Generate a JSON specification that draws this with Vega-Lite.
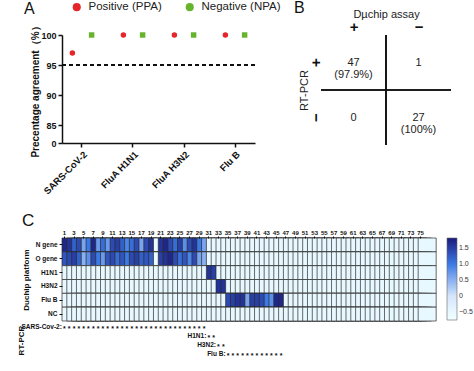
{
"$schema": "https://vega.github.io/schema/vega-lite/v6.json",
"padding": {"left": 17, "top": 0, "right": 2, "bottom": 0},
"background": "white",
"config": {"font": "Liberation Sans", "view": {"stroke": null}},
"spacing": 16,
"vconcat": [
{"hconcat": [
{
"width": 193, "height": 108,
"title": {"text": "A", "anchor": "start", "frame": "group", "fontSize": 16, "fontWeight": "normal", "dx": -38, "offset": 4, "color": "#111"},
"data": {"values": [
{"target": "SARS-CoV-2", "type": "Positive (PPA)", "pct": 97},
{"target": "SARS-CoV-2", "type": "Negative (NPA)", "pct": 100},
{"target": "FluA H1N1", "type": "Positive (PPA)", "pct": 100},
{"target": "FluA H1N1", "type": "Negative (NPA)", "pct": 100},
{"target": "FluA H3N2", "type": "Positive (PPA)", "pct": 100},
{"target": "FluA H3N2", "type": "Negative (NPA)", "pct": 100},
{"target": "Flu B", "type": "Positive (PPA)", "pct": 100},
{"target": "Flu B", "type": "Negative (NPA)", "pct": 100}
]},
"layer": [
{"mark": {"type": "rule", "strokeDash": [4, 3], "strokeWidth": 1.2, "color": "#111"}, "encoding": {"y": {"datum": 95, "type": "quantitative"}}},
{"mark": {"type": "point", "filled": true, "size": 30, "opacity": 1},
"encoding": {
"x": {"field": "target", "type": "nominal", "sort": ["SARS-CoV-2", "FluA H1N1", "FluA H3N2", "Flu B"], "scale": {"paddingInner": 0.216, "paddingOuter": 0},
"axis": {"title": null, "labelAngle": -45, "labelFontWeight": "bold", "labelFontSize": 9.5, "labelColor": "#111", "domainColor": "#111", "domainWidth": 1.5, "tickColor": "#111", "tickWidth": 1.5, "tickSize": 4, "labelPadding": 2}},
"xOffset": {"field": "type", "type": "nominal", "sort": ["Positive (PPA)", "Negative (NPA)"], "scale": {"paddingInner": 0, "paddingOuter": 0.54}},
"y": {"field": "pct", "type": "quantitative", "scale": {"domain": [82, 100], "nice": false, "zero": false},
"axis": {"values": [82, 85, 90, 95, 100], "tickCount": 5, "labelOverlap": false, "labelExpr": "datum.value < 83 ? '0' : datum.label", "grid": false, "title": "Precentage agreement（%）", "titleFontSize": 10, "titleFontWeight": "bold", "titleColor": "#111", "titlePadding": 0, "labelFontWeight": "bold", "labelFontSize": 9, "labelColor": "#111", "domainColor": "#111", "domainWidth": 1.5, "tickColor": "#111", "tickWidth": 1.5, "tickSize": 4}},
"color": {"field": "type", "type": "nominal", "sort": ["Positive (PPA)", "Negative (NPA)"], "scale": {"domain": ["Positive (PPA)", "Negative (NPA)"], "range": ["#e4262b", "#66b42e"]},
"legend": {"orient": "none", "legendX": 9, "legendY": -34, "direction": "horizontal", "title": null, "labelFontSize": 11.5, "labelFontWeight": "normal", "symbolSize": 65, "columnPadding": 22, "labelOffset": 6, "labelColor": "#222",
"encode": {"symbols": {"update": {"shape": [{"test": "datum.value === 'Negative (NPA)'", "value": "square"}, {"value": "circle"}]}}}}},
"shape": {"field": "type", "type": "nominal", "sort": ["Positive (PPA)", "Negative (NPA)"], "scale": {"domain": ["Positive (PPA)", "Negative (NPA)"], "range": ["circle", "square"]}, "legend": null}
}}
]
},
{
"width": 130, "height": 110,
"title": {"text": "B", "anchor": "start", "frame": "group", "fontSize": 16, "fontWeight": "normal", "dx": -27, "offset": -8, "color": "#111"},
"data": {"values": [
{"c": 0.5, "r": 1.5, "t": "47\n(97.9%)"},
{"c": 1.5, "r": 1.5, "t": "1"},
{"c": 0.5, "r": 0.5, "t": "0"},
{"c": 1.5, "r": 0.5, "t": "27\n(100%)"}
]},
"layer": [
{"mark": {"type": "text", "lineBreak": "\n", "fontSize": 11, "color": "#222", "lineHeight": 12},
"encoding": {
"x": {"field": "c", "type": "quantitative", "scale": {"domain": [0, 2], "nice": false},
"axis": {"orient": "top", "values": [0.5, 1.5], "labelExpr": "datum.value < 1 ? '+' : '−'", "domain": false, "ticks": false, "grid": false, "labelFontSize": 15, "labelFontWeight": "bold", "labelColor": "#111", "labelPadding": 1, "title": "Dµchip assay", "titleFontSize": 11, "titleFontWeight": "normal", "titleColor": "#222", "titlePadding": 0}},
"y": {"field": "r", "type": "quantitative", "scale": {"domain": [0, 2], "nice": false},
"axis": {"values": [0.5, 1.5], "labels": false, "domain": false, "ticks": false, "grid": false, "title": "RT-PCR", "titleFontSize": 11, "titleFontWeight": "normal", "titleColor": "#222", "titlePadding": 12}},
"text": {"field": "t"}}},
{"data": {"values": [
{"c": -0.08, "r": 1.5, "sign": "+"},
{"c": -0.08, "r": 0.5, "sign": "−"}
]},
"mark": {"type": "text", "angle": 270, "fontSize": 15, "fontWeight": "bold", "color": "#111"},
"encoding": {
"x": {"field": "c", "type": "quantitative"},
"y": {"field": "r", "type": "quantitative"},
"text": {"field": "sign"}}},
{"mark": {"type": "rule", "color": "#111", "strokeWidth": 1.2}, "encoding": {"x": {"datum": 1, "type": "quantitative"}}},
{"mark": {"type": "rule", "color": "#111", "strokeWidth": 1.2}, "encoding": {"y": {"datum": 1, "type": "quantitative"}}}
]
}
], "spacing": 38},
{"spacing": 0, "vconcat": [
{
"width": 361, "height": 83,
"title": {"text": "C", "anchor": "start", "frame": "group", "fontSize": 17, "fontWeight": "normal", "dx": -40, "offset": -1, "color": "#111"},
"data": {"values": [
{"s":1,"g":"N gene","v":1.7},{"s":2,"g":"N gene","v":1.6},{"s":3,"g":"N gene","v":1.2},{"s":4,"g":"N gene","v":1.4},{"s":5,"g":"N gene","v":0.6},{"s":6,"g":"N gene","v":1.0},{"s":7,"g":"N gene","v":1.7},{"s":8,"g":"N gene","v":0.7},{"s":9,"g":"N gene","v":1.1},{"s":10,"g":"N gene","v":0.7},{"s":11,"g":"N gene","v":1.4},{"s":12,"g":"N gene","v":1.5},{"s":13,"g":"N gene","v":1.2},{"s":14,"g":"N gene","v":0.9},{"s":15,"g":"N gene","v":1.1},{"s":16,"g":"N gene","v":1.4},{"s":17,"g":"N gene","v":0.6},{"s":18,"g":"N gene","v":1.4},{"s":19,"g":"N gene","v":1.6},{"s":20,"g":"N gene","v":-0.6},{"s":21,"g":"N gene","v":1.6},{"s":22,"g":"N gene","v":1.7},{"s":23,"g":"N gene","v":1.4},{"s":24,"g":"N gene","v":1.1},{"s":25,"g":"N gene","v":1.5},{"s":26,"g":"N gene","v":0.8},{"s":27,"g":"N gene","v":1.4},{"s":28,"g":"N gene","v":1.6},{"s":29,"g":"N gene","v":1.0},{"s":30,"g":"N gene","v":0.6},
{"s":31,"g":"N gene","v":-0.5},{"s":32,"g":"N gene","v":-0.5},{"s":33,"g":"N gene","v":-0.5},{"s":34,"g":"N gene","v":-0.5},{"s":35,"g":"N gene","v":-0.5},{"s":36,"g":"N gene","v":-0.5},{"s":37,"g":"N gene","v":-0.5},{"s":38,"g":"N gene","v":-0.5},{"s":39,"g":"N gene","v":-0.5},{"s":40,"g":"N gene","v":-0.5},{"s":41,"g":"N gene","v":-0.5},{"s":42,"g":"N gene","v":-0.5},{"s":43,"g":"N gene","v":-0.5},{"s":44,"g":"N gene","v":-0.5},{"s":45,"g":"N gene","v":-0.5},{"s":46,"g":"N gene","v":-0.5},{"s":47,"g":"N gene","v":-0.5},{"s":48,"g":"N gene","v":-0.5},{"s":49,"g":"N gene","v":-0.5},{"s":50,"g":"N gene","v":-0.5},{"s":51,"g":"N gene","v":-0.5},{"s":52,"g":"N gene","v":-0.5},{"s":53,"g":"N gene","v":-0.5},{"s":54,"g":"N gene","v":-0.5},{"s":55,"g":"N gene","v":-0.5},{"s":56,"g":"N gene","v":-0.5},{"s":57,"g":"N gene","v":-0.5},{"s":58,"g":"N gene","v":-0.5},{"s":59,"g":"N gene","v":-0.5},{"s":60,"g":"N gene","v":-0.5},{"s":61,"g":"N gene","v":-0.5},{"s":62,"g":"N gene","v":-0.5},{"s":63,"g":"N gene","v":-0.5},{"s":64,"g":"N gene","v":-0.5},{"s":65,"g":"N gene","v":-0.5},{"s":66,"g":"N gene","v":-0.5},{"s":67,"g":"N gene","v":-0.5},{"s":68,"g":"N gene","v":-0.5},{"s":69,"g":"N gene","v":-0.5},{"s":70,"g":"N gene","v":-0.5},{"s":71,"g":"N gene","v":-0.5},{"s":72,"g":"N gene","v":-0.5},{"s":73,"g":"N gene","v":-0.5},{"s":74,"g":"N gene","v":-0.5},{"s":75,"g":"N gene","v":-0.5},
{"s":1,"g":"O gene","v":1.3},{"s":2,"g":"O gene","v":1.4},{"s":3,"g":"O gene","v":1.5},{"s":4,"g":"O gene","v":1.2},{"s":5,"g":"O gene","v":0.5},{"s":6,"g":"O gene","v":0.8},{"s":7,"g":"O gene","v":1.4},{"s":8,"g":"O gene","v":1.0},{"s":9,"g":"O gene","v":0.7},{"s":10,"g":"O gene","v":1.3},{"s":11,"g":"O gene","v":1.4},{"s":12,"g":"O gene","v":1.1},{"s":13,"g":"O gene","v":1.3},{"s":14,"g":"O gene","v":1.0},{"s":15,"g":"O gene","v":1.4},{"s":16,"g":"O gene","v":1.5},{"s":17,"g":"O gene","v":1.2},{"s":18,"g":"O gene","v":1.3},{"s":19,"g":"O gene","v":1.2},{"s":20,"g":"O gene","v":-0.6},{"s":21,"g":"O gene","v":1.5},{"s":22,"g":"O gene","v":1.6},{"s":23,"g":"O gene","v":1.7},{"s":24,"g":"O gene","v":1.4},{"s":25,"g":"O gene","v":1.1},{"s":26,"g":"O gene","v":1.3},{"s":27,"g":"O gene","v":0.9},{"s":28,"g":"O gene","v":1.4},{"s":29,"g":"O gene","v":0.6},{"s":30,"g":"O gene","v":0.5},
{"s":31,"g":"O gene","v":-0.5},{"s":32,"g":"O gene","v":-0.5},{"s":33,"g":"O gene","v":-0.5},{"s":34,"g":"O gene","v":-0.5},{"s":35,"g":"O gene","v":-0.5},{"s":36,"g":"O gene","v":-0.5},{"s":37,"g":"O gene","v":-0.5},{"s":38,"g":"O gene","v":-0.5},{"s":39,"g":"O gene","v":-0.5},{"s":40,"g":"O gene","v":-0.5},{"s":41,"g":"O gene","v":-0.5},{"s":42,"g":"O gene","v":-0.5},{"s":43,"g":"O gene","v":-0.5},{"s":44,"g":"O gene","v":-0.5},{"s":45,"g":"O gene","v":-0.5},{"s":46,"g":"O gene","v":-0.5},{"s":47,"g":"O gene","v":-0.5},{"s":48,"g":"O gene","v":-0.5},{"s":49,"g":"O gene","v":-0.5},{"s":50,"g":"O gene","v":-0.5},{"s":51,"g":"O gene","v":-0.5},{"s":52,"g":"O gene","v":-0.5},{"s":53,"g":"O gene","v":-0.5},{"s":54,"g":"O gene","v":-0.5},{"s":55,"g":"O gene","v":-0.5},{"s":56,"g":"O gene","v":-0.5},{"s":57,"g":"O gene","v":-0.5},{"s":58,"g":"O gene","v":-0.5},{"s":59,"g":"O gene","v":-0.5},{"s":60,"g":"O gene","v":-0.5},{"s":61,"g":"O gene","v":-0.5},{"s":62,"g":"O gene","v":-0.5},{"s":63,"g":"O gene","v":-0.5},{"s":64,"g":"O gene","v":-0.5},{"s":65,"g":"O gene","v":-0.5},{"s":66,"g":"O gene","v":-0.5},{"s":67,"g":"O gene","v":-0.5},{"s":68,"g":"O gene","v":-0.5},{"s":69,"g":"O gene","v":-0.5},{"s":70,"g":"O gene","v":-0.5},{"s":71,"g":"O gene","v":-0.5},{"s":72,"g":"O gene","v":-0.5},{"s":73,"g":"O gene","v":-0.5},{"s":74,"g":"O gene","v":-0.5},{"s":75,"g":"O gene","v":-0.5},
{"s":1,"g":"H1N1","v":-0.5},{"s":2,"g":"H1N1","v":-0.5},{"s":3,"g":"H1N1","v":-0.5},{"s":4,"g":"H1N1","v":-0.5},{"s":5,"g":"H1N1","v":-0.5},{"s":6,"g":"H1N1","v":-0.5},{"s":7,"g":"H1N1","v":-0.5},{"s":8,"g":"H1N1","v":-0.5},{"s":9,"g":"H1N1","v":-0.5},{"s":10,"g":"H1N1","v":-0.5},{"s":11,"g":"H1N1","v":-0.5},{"s":12,"g":"H1N1","v":-0.5},{"s":13,"g":"H1N1","v":-0.5},{"s":14,"g":"H1N1","v":-0.5},{"s":15,"g":"H1N1","v":-0.5},{"s":16,"g":"H1N1","v":-0.5},{"s":17,"g":"H1N1","v":-0.5},{"s":18,"g":"H1N1","v":-0.5},{"s":19,"g":"H1N1","v":-0.5},{"s":20,"g":"H1N1","v":-0.5},{"s":21,"g":"H1N1","v":-0.5},{"s":22,"g":"H1N1","v":-0.5},{"s":23,"g":"H1N1","v":-0.5},{"s":24,"g":"H1N1","v":-0.5},{"s":25,"g":"H1N1","v":-0.5},{"s":26,"g":"H1N1","v":-0.5},{"s":27,"g":"H1N1","v":-0.5},{"s":28,"g":"H1N1","v":-0.5},{"s":29,"g":"H1N1","v":-0.5},{"s":30,"g":"H1N1","v":-0.5},{"s":31,"g":"H1N1","v":1.6},{"s":32,"g":"H1N1","v":1.5},{"s":33,"g":"H1N1","v":-0.5},{"s":34,"g":"H1N1","v":-0.5},{"s":35,"g":"H1N1","v":-0.5},{"s":36,"g":"H1N1","v":-0.5},{"s":37,"g":"H1N1","v":-0.5},{"s":38,"g":"H1N1","v":-0.5},{"s":39,"g":"H1N1","v":-0.5},{"s":40,"g":"H1N1","v":-0.5},{"s":41,"g":"H1N1","v":-0.5},{"s":42,"g":"H1N1","v":-0.5},{"s":43,"g":"H1N1","v":-0.5},{"s":44,"g":"H1N1","v":-0.5},{"s":45,"g":"H1N1","v":-0.5},{"s":46,"g":"H1N1","v":-0.5},{"s":47,"g":"H1N1","v":-0.5},{"s":48,"g":"H1N1","v":-0.5},{"s":49,"g":"H1N1","v":-0.5},{"s":50,"g":"H1N1","v":-0.5},{"s":51,"g":"H1N1","v":-0.5},{"s":52,"g":"H1N1","v":-0.5},{"s":53,"g":"H1N1","v":-0.5},{"s":54,"g":"H1N1","v":-0.5},{"s":55,"g":"H1N1","v":-0.5},{"s":56,"g":"H1N1","v":-0.5},{"s":57,"g":"H1N1","v":-0.5},{"s":58,"g":"H1N1","v":-0.5},{"s":59,"g":"H1N1","v":-0.5},{"s":60,"g":"H1N1","v":-0.5},{"s":61,"g":"H1N1","v":-0.5},{"s":62,"g":"H1N1","v":-0.5},{"s":63,"g":"H1N1","v":-0.5},{"s":64,"g":"H1N1","v":-0.5},{"s":65,"g":"H1N1","v":-0.5},{"s":66,"g":"H1N1","v":-0.5},{"s":67,"g":"H1N1","v":-0.5},{"s":68,"g":"H1N1","v":-0.5},{"s":69,"g":"H1N1","v":-0.5},{"s":70,"g":"H1N1","v":-0.5},{"s":71,"g":"H1N1","v":-0.5},{"s":72,"g":"H1N1","v":-0.5},{"s":73,"g":"H1N1","v":-0.5},{"s":74,"g":"H1N1","v":-0.5},{"s":75,"g":"H1N1","v":-0.5},
{"s":1,"g":"H3N2","v":-0.5},{"s":2,"g":"H3N2","v":-0.5},{"s":3,"g":"H3N2","v":-0.5},{"s":4,"g":"H3N2","v":-0.5},{"s":5,"g":"H3N2","v":-0.5},{"s":6,"g":"H3N2","v":-0.5},{"s":7,"g":"H3N2","v":-0.5},{"s":8,"g":"H3N2","v":-0.5},{"s":9,"g":"H3N2","v":-0.5},{"s":10,"g":"H3N2","v":-0.5},{"s":11,"g":"H3N2","v":-0.5},{"s":12,"g":"H3N2","v":-0.5},{"s":13,"g":"H3N2","v":-0.5},{"s":14,"g":"H3N2","v":-0.5},{"s":15,"g":"H3N2","v":-0.5},{"s":16,"g":"H3N2","v":-0.5},{"s":17,"g":"H3N2","v":-0.5},{"s":18,"g":"H3N2","v":-0.5},{"s":19,"g":"H3N2","v":-0.5},{"s":20,"g":"H3N2","v":-0.5},{"s":21,"g":"H3N2","v":-0.5},{"s":22,"g":"H3N2","v":-0.5},{"s":23,"g":"H3N2","v":-0.5},{"s":24,"g":"H3N2","v":-0.5},{"s":25,"g":"H3N2","v":-0.5},{"s":26,"g":"H3N2","v":-0.5},{"s":27,"g":"H3N2","v":-0.5},{"s":28,"g":"H3N2","v":-0.5},{"s":29,"g":"H3N2","v":-0.5},{"s":30,"g":"H3N2","v":-0.5},{"s":31,"g":"H3N2","v":-0.5},{"s":32,"g":"H3N2","v":-0.5},{"s":33,"g":"H3N2","v":1.6},{"s":34,"g":"H3N2","v":1.6},{"s":35,"g":"H3N2","v":-0.5},{"s":36,"g":"H3N2","v":-0.5},{"s":37,"g":"H3N2","v":-0.5},{"s":38,"g":"H3N2","v":-0.5},{"s":39,"g":"H3N2","v":-0.5},{"s":40,"g":"H3N2","v":-0.5},{"s":41,"g":"H3N2","v":-0.5},{"s":42,"g":"H3N2","v":-0.5},{"s":43,"g":"H3N2","v":-0.5},{"s":44,"g":"H3N2","v":-0.5},{"s":45,"g":"H3N2","v":-0.5},{"s":46,"g":"H3N2","v":-0.5},{"s":47,"g":"H3N2","v":-0.5},{"s":48,"g":"H3N2","v":-0.5},{"s":49,"g":"H3N2","v":-0.5},{"s":50,"g":"H3N2","v":-0.5},{"s":51,"g":"H3N2","v":-0.5},{"s":52,"g":"H3N2","v":-0.5},{"s":53,"g":"H3N2","v":-0.5},{"s":54,"g":"H3N2","v":-0.5},{"s":55,"g":"H3N2","v":-0.5},{"s":56,"g":"H3N2","v":-0.5},{"s":57,"g":"H3N2","v":-0.5},{"s":58,"g":"H3N2","v":-0.5},{"s":59,"g":"H3N2","v":-0.5},{"s":60,"g":"H3N2","v":-0.5},{"s":61,"g":"H3N2","v":-0.5},{"s":62,"g":"H3N2","v":-0.5},{"s":63,"g":"H3N2","v":-0.5},{"s":64,"g":"H3N2","v":-0.5},{"s":65,"g":"H3N2","v":-0.5},{"s":66,"g":"H3N2","v":-0.5},{"s":67,"g":"H3N2","v":-0.5},{"s":68,"g":"H3N2","v":-0.5},{"s":69,"g":"H3N2","v":-0.5},{"s":70,"g":"H3N2","v":-0.5},{"s":71,"g":"H3N2","v":-0.5},{"s":72,"g":"H3N2","v":-0.5},{"s":73,"g":"H3N2","v":-0.5},{"s":74,"g":"H3N2","v":-0.5},{"s":75,"g":"H3N2","v":-0.5},
{"s":1,"g":"Flu B","v":-0.5},{"s":2,"g":"Flu B","v":-0.5},{"s":3,"g":"Flu B","v":-0.5},{"s":4,"g":"Flu B","v":-0.5},{"s":5,"g":"Flu B","v":-0.5},{"s":6,"g":"Flu B","v":-0.5},{"s":7,"g":"Flu B","v":-0.5},{"s":8,"g":"Flu B","v":-0.5},{"s":9,"g":"Flu B","v":-0.5},{"s":10,"g":"Flu B","v":-0.5},{"s":11,"g":"Flu B","v":-0.5},{"s":12,"g":"Flu B","v":-0.5},{"s":13,"g":"Flu B","v":-0.5},{"s":14,"g":"Flu B","v":-0.5},{"s":15,"g":"Flu B","v":-0.5},{"s":16,"g":"Flu B","v":-0.5},{"s":17,"g":"Flu B","v":-0.5},{"s":18,"g":"Flu B","v":-0.5},{"s":19,"g":"Flu B","v":-0.5},{"s":20,"g":"Flu B","v":-0.5},{"s":21,"g":"Flu B","v":-0.5},{"s":22,"g":"Flu B","v":-0.5},{"s":23,"g":"Flu B","v":-0.5},{"s":24,"g":"Flu B","v":-0.5},{"s":25,"g":"Flu B","v":-0.5},{"s":26,"g":"Flu B","v":-0.5},{"s":27,"g":"Flu B","v":-0.5},{"s":28,"g":"Flu B","v":-0.5},{"s":29,"g":"Flu B","v":-0.5},{"s":30,"g":"Flu B","v":-0.5},{"s":31,"g":"Flu B","v":-0.5},{"s":32,"g":"Flu B","v":-0.5},{"s":33,"g":"Flu B","v":-0.5},{"s":34,"g":"Flu B","v":-0.5},{"s":35,"g":"Flu B","v":1.4},{"s":36,"g":"Flu B","v":1.5},{"s":37,"g":"Flu B","v":1.6},{"s":38,"g":"Flu B","v":1.6},{"s":39,"g":"Flu B","v":0.6},{"s":40,"g":"Flu B","v":1.5},{"s":41,"g":"Flu B","v":1.5},{"s":42,"g":"Flu B","v":1.4},{"s":43,"g":"Flu B","v":1.0},{"s":44,"g":"Flu B","v":0.8},{"s":45,"g":"Flu B","v":1.7},{"s":46,"g":"Flu B","v":1.7},{"s":47,"g":"Flu B","v":-0.5},{"s":48,"g":"Flu B","v":-0.5},{"s":49,"g":"Flu B","v":-0.5},{"s":50,"g":"Flu B","v":-0.5},{"s":51,"g":"Flu B","v":-0.5},{"s":52,"g":"Flu B","v":-0.5},{"s":53,"g":"Flu B","v":-0.5},{"s":54,"g":"Flu B","v":-0.5},{"s":55,"g":"Flu B","v":-0.5},{"s":56,"g":"Flu B","v":-0.5},{"s":57,"g":"Flu B","v":-0.5},{"s":58,"g":"Flu B","v":-0.5},{"s":59,"g":"Flu B","v":-0.5},{"s":60,"g":"Flu B","v":-0.5},{"s":61,"g":"Flu B","v":-0.5},{"s":62,"g":"Flu B","v":-0.5},{"s":63,"g":"Flu B","v":-0.5},{"s":64,"g":"Flu B","v":-0.5},{"s":65,"g":"Flu B","v":-0.5},{"s":66,"g":"Flu B","v":-0.5},{"s":67,"g":"Flu B","v":-0.5},{"s":68,"g":"Flu B","v":-0.5},{"s":69,"g":"Flu B","v":-0.5},{"s":70,"g":"Flu B","v":-0.5},{"s":71,"g":"Flu B","v":-0.5},{"s":72,"g":"Flu B","v":-0.5},{"s":73,"g":"Flu B","v":-0.5},{"s":74,"g":"Flu B","v":-0.5},{"s":75,"g":"Flu B","v":-0.5},
{"s":1,"g":"NC","v":-0.5},{"s":2,"g":"NC","v":-0.5},{"s":3,"g":"NC","v":-0.5},{"s":4,"g":"NC","v":-0.5},{"s":5,"g":"NC","v":-0.5},{"s":6,"g":"NC","v":-0.5},{"s":7,"g":"NC","v":-0.5},{"s":8,"g":"NC","v":-0.5},{"s":9,"g":"NC","v":-0.5},{"s":10,"g":"NC","v":-0.5},{"s":11,"g":"NC","v":-0.5},{"s":12,"g":"NC","v":-0.5},{"s":13,"g":"NC","v":-0.5},{"s":14,"g":"NC","v":-0.5},{"s":15,"g":"NC","v":-0.5},{"s":16,"g":"NC","v":-0.5},{"s":17,"g":"NC","v":-0.5},{"s":18,"g":"NC","v":-0.5},{"s":19,"g":"NC","v":-0.5},{"s":20,"g":"NC","v":-0.5},{"s":21,"g":"NC","v":-0.5},{"s":22,"g":"NC","v":-0.5},{"s":23,"g":"NC","v":-0.5},{"s":24,"g":"NC","v":-0.5},{"s":25,"g":"NC","v":-0.5},{"s":26,"g":"NC","v":-0.5},{"s":27,"g":"NC","v":-0.5},{"s":28,"g":"NC","v":-0.5},{"s":29,"g":"NC","v":-0.5},{"s":30,"g":"NC","v":-0.5},{"s":31,"g":"NC","v":-0.5},{"s":32,"g":"NC","v":-0.5},{"s":33,"g":"NC","v":-0.5},{"s":34,"g":"NC","v":-0.5},{"s":35,"g":"NC","v":-0.5},{"s":36,"g":"NC","v":-0.5},{"s":37,"g":"NC","v":-0.5},{"s":38,"g":"NC","v":-0.5},{"s":39,"g":"NC","v":-0.5},{"s":40,"g":"NC","v":-0.5},{"s":41,"g":"NC","v":-0.5},{"s":42,"g":"NC","v":-0.5},{"s":43,"g":"NC","v":-0.5},{"s":44,"g":"NC","v":-0.5},{"s":45,"g":"NC","v":-0.5},{"s":46,"g":"NC","v":-0.5},{"s":47,"g":"NC","v":-0.5},{"s":48,"g":"NC","v":-0.5},{"s":49,"g":"NC","v":-0.5},{"s":50,"g":"NC","v":-0.5},{"s":51,"g":"NC","v":-0.5},{"s":52,"g":"NC","v":-0.5},{"s":53,"g":"NC","v":-0.5},{"s":54,"g":"NC","v":-0.5},{"s":55,"g":"NC","v":-0.5},{"s":56,"g":"NC","v":-0.5},{"s":57,"g":"NC","v":-0.5},{"s":58,"g":"NC","v":-0.5},{"s":59,"g":"NC","v":-0.5},{"s":60,"g":"NC","v":-0.5},{"s":61,"g":"NC","v":-0.5},{"s":62,"g":"NC","v":-0.5},{"s":63,"g":"NC","v":-0.5},{"s":64,"g":"NC","v":-0.5},{"s":65,"g":"NC","v":-0.5},{"s":66,"g":"NC","v":-0.5},{"s":67,"g":"NC","v":-0.5},{"s":68,"g":"NC","v":-0.5},{"s":69,"g":"NC","v":-0.5},{"s":70,"g":"NC","v":-0.5},{"s":71,"g":"NC","v":-0.5},{"s":72,"g":"NC","v":-0.5},{"s":73,"g":"NC","v":-0.5},{"s":74,"g":"NC","v":-0.5},{"s":75,"g":"NC","v":-0.5}
]},
"mark": {"type": "rect", "stroke": "#2b2b2b", "strokeWidth": 0.7},
"encoding": {
"x": {"field": "s", "type": "ordinal", "axis": {"orient": "top", "values": [1,3,5,7,9,11,13,15,17,19,21,23,25,27,29,31,33,35,37,39,41,43,45,47,49,51,53,55,57,59,61,63,65,67,69,71,73,75], "labelAngle": 0, "labelFontSize": 6, "labelFontWeight": "bold", "labelColor": "#111", "tickSize": 2, "tickColor": "#111", "domain": false, "title": null, "labelPadding": 1}},
"y": {"field": "g", "type": "nominal", "sort": ["N gene", "O gene", "H1N1", "H3N2", "Flu B", "NC"], "axis": {"title": "Duchip platform", "titleFontSize": 8, "titleFontWeight": "bold", "titleColor": "#111", "labelFontSize": 6.5, "labelFontWeight": "bold", "labelColor": "#111", "tickSize": 3, "tickColor": "#111", "domain": false, "titlePadding": 4}},
"color": {"field": "v", "type": "quantitative", "scale": {"domain": [-0.75, 0, 1, 1.81], "range": ["#ffffff", "#d6e5f9", "#3b79e4", "#1a1c7c"]},
"legend": {"title": null, "gradientLength": 82, "gradientThickness": 10, "values": [-0.5, 0, 0.5, 1, 1.5], "labelExpr": "datum.value == 0 ? '0' : format(datum.value, '.1f')", "labelFontSize": 7, "labelColor": "#333", "offset": 10, "gradientStrokeColor": "#666", "gradientStrokeWidth": 0.6, "direction": "vertical"}}
}
},
{
"width": 361, "height": 36,
"layer": [
{"data": {"values": [
{"s":1,"r":"SARS-Cov-2"},{"s":2,"r":"SARS-Cov-2"},{"s":3,"r":"SARS-Cov-2"},{"s":4,"r":"SARS-Cov-2"},{"s":5,"r":"SARS-Cov-2"},{"s":6,"r":"SARS-Cov-2"},{"s":7,"r":"SARS-Cov-2"},{"s":8,"r":"SARS-Cov-2"},{"s":9,"r":"SARS-Cov-2"},{"s":10,"r":"SARS-Cov-2"},{"s":11,"r":"SARS-Cov-2"},{"s":12,"r":"SARS-Cov-2"},{"s":13,"r":"SARS-Cov-2"},{"s":14,"r":"SARS-Cov-2"},{"s":15,"r":"SARS-Cov-2"},{"s":16,"r":"SARS-Cov-2"},{"s":17,"r":"SARS-Cov-2"},{"s":18,"r":"SARS-Cov-2"},{"s":19,"r":"SARS-Cov-2"},{"s":20,"r":"SARS-Cov-2"},{"s":21,"r":"SARS-Cov-2"},{"s":22,"r":"SARS-Cov-2"},{"s":23,"r":"SARS-Cov-2"},{"s":24,"r":"SARS-Cov-2"},{"s":25,"r":"SARS-Cov-2"},{"s":26,"r":"SARS-Cov-2"},{"s":27,"r":"SARS-Cov-2"},{"s":28,"r":"SARS-Cov-2"},{"s":29,"r":"SARS-Cov-2"},{"s":30,"r":"SARS-Cov-2"},
{"s":31,"r":"H1N1"},{"s":32,"r":"H1N1"},{"s":33,"r":"H3N2"},{"s":34,"r":"H3N2"},
{"s":35,"r":"Flu B"},{"s":36,"r":"Flu B"},{"s":37,"r":"Flu B"},{"s":38,"r":"Flu B"},{"s":39,"r":"Flu B"},{"s":40,"r":"Flu B"},{"s":41,"r":"Flu B"},{"s":42,"r":"Flu B"},{"s":43,"r":"Flu B"},{"s":44,"r":"Flu B"},{"s":45,"r":"Flu B"},{"s":46,"r":"Flu B"}
]},
"mark": {"type": "text", "text": "*", "fontSize": 7, "fontWeight": "bold", "color": "#111", "dy": 2},
"encoding": {
"x": {"field": "s", "type": "quantitative", "scale": {"domain": [0.5, 75.5], "nice": false, "zero": false}, "axis": null},
"y": {"field": "r", "type": "nominal", "sort": ["SARS-Cov-2", "H1N1", "H3N2", "Flu B"], "axis": {"title": "RT-PCR", "labels": false, "ticks": false, "domain": false, "titleFontSize": 8, "titleFontWeight": "bold", "titleColor": "#111", "titlePadding": 37}}
}},
{"data": {"values": [
{"s": 1, "r": "SARS-Cov-2", "label": "SARS-Cov-2:"},
{"s": 31, "r": "H1N1", "label": "H1N1:"},
{"s": 33, "r": "H3N2", "label": "H3N2:"},
{"s": 35, "r": "Flu B", "label": "Flu B:"}
]},
"mark": {"type": "text", "align": "right", "dx": -2.5, "fontSize": 6.5, "fontWeight": "bold", "color": "#111"},
"encoding": {
"x": {"field": "s", "type": "quantitative"},
"y": {"field": "r", "type": "nominal", "sort": ["SARS-Cov-2", "H1N1", "H3N2", "Flu B"]},
"text": {"field": "label"}
}}
]
}
]}
]
}
